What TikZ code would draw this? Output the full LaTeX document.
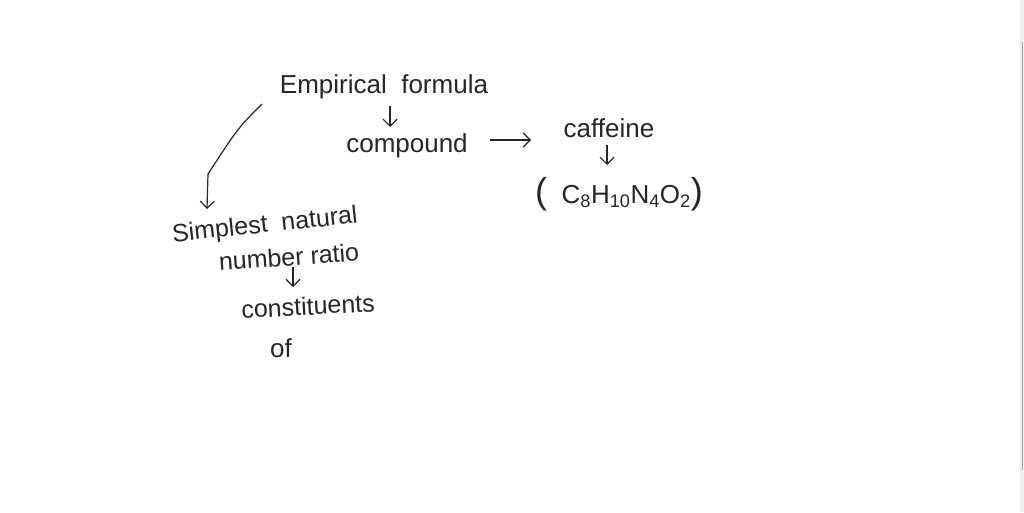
\documentclass[tikz,border=0pt]{standalone}
\usepackage{fontspec}
\setmainfont{Liberation Sans}
\usetikzlibrary{arrows.meta}
\tikzset{
  hand/.style={font=\fontsize{26}{28}\selectfont, text=black!85, inner sep=1pt},
  arr/.style={draw=black!85, line width=1.2pt, -{Straight Barb[length=7pt,width=14pt]}},
  ln/.style={draw=black!85, line width=1.2pt}
}
\newcommand{\bigpar}[1]{{\fontsize{36}{38}\selectfont #1}}
\begin{document}
\begin{tikzpicture}[x=1pt,y=-1pt]
\useasboundingbox (0,0) rectangle (1024,512);
\fill[white] (0,0) rectangle (1024,512);
\fill[black!6] (1020,0) rectangle (1024,512);
\draw[black!35, line width=0.8pt] (1022,42) -- (1022,470);

\node[hand] (emp) at (384,87) {Empirical\ \ formula};
\node[hand] (comp) at (407,146) {compound};
\node[hand] (caf) at (609,128) {caffeine};
\node[hand] (form) at (619,194) {\bigpar{(}\ \ C\textsubscript{8}H\textsubscript{10}N\textsubscript{4}O\textsubscript{2}\bigpar{)}};
\node[hand, rotate=6, font=\fontsize{25}{27}\selectfont] (simp) at (265,226) {Simplest\ \ natural};
\node[hand, rotate=4, font=\fontsize{25}{27}\selectfont] (num) at (289,257) {number\ ratio};
\node[hand, rotate=3, font=\fontsize{25}{27}\selectfont] (cons) at (308,306) {constituents};
\node[hand] (of) at (281,348) {of};

\coordinate (a1s) at (390,106);
\coordinate (a1e) at (390,127);
\coordinate (a2s) at (490,140);
\coordinate (a2e) at (531,140);
\coordinate (a3s) at (607,145);
\coordinate (a3e) at (607,165);
\coordinate (a4s) at (293,267);
\coordinate (a4e) at (293,287);
\draw[arr] (a1s) -- (a1e);
\draw[arr] (a2s) -- (a2e);
\draw[arr] (a3s) -- (a3e);
\draw[arr] (a4s) -- (a4e);

\coordinate (cstart) at (262,104);
\coordinate (cbend) at (208,174);
\coordinate (cend) at (207,209);
\draw[ln] (cstart) .. controls (238,128) .. (cbend);
\draw[arr] (cbend) -- (cend);
\end{tikzpicture}
\end{document}
